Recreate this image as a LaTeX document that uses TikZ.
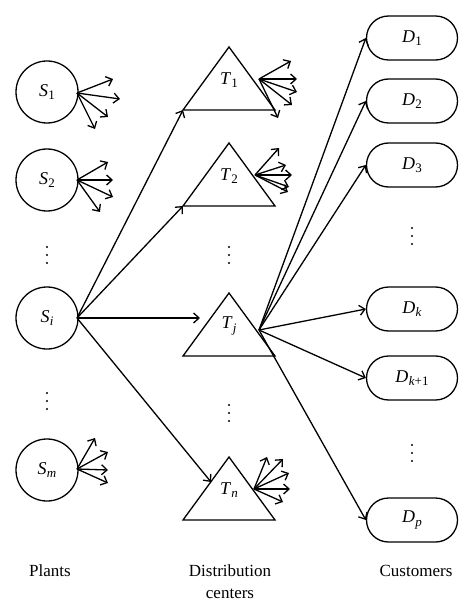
\documentclass[tikz,border=0pt]{standalone}
\usepackage{fontspec}
\setmainfont{Liberation Serif}
\usetikzlibrary{arrows.meta,shapes.misc}
\newcommand\lab[2]{\textit{#1}\kern0.3pt\raisebox{-0.4ex}{\fontsize{13}{13}\selectfont #2}}
\newcommand\vdts[2]{\foreach \dd in {-8,0,8} \fill (#1,{#2+\dd}) circle (1.2pt);}
\newcommand\dctr[3]{%
  \coordinate (#1a) at (229,#2);
  \coordinate (#1l) at (183,{#2+63});
  \coordinate (#1r) at (275,{#2+63});
  \draw[line join=miter] (#1a) -- (#1l) -- (#1r) -- cycle;
  \node (#1) at (229,{#2+33}) {#3};}
\begin{document}
\begin{tikzpicture}[x=1pt,y=-1pt,line width=1.3pt,
  every node/.style={font=\fontsize{18}{20}\selectfont},
  plant/.style={draw,circle,minimum size=62pt,inner sep=0pt},
  cust/.style={draw,rounded rectangle,minimum width=91pt,minimum height=44pt,inner sep=0pt},
  flow/.style={-{Straight Barb[length=5.5pt,width=10pt]}},
  caption/.style={align=center,font=\fontsize{17}{22}\selectfont}]
\useasboundingbox (0,0) rectangle (474,612);

% plants
\node[plant] (S1) at (47,92) {\lab{S}{1}};
\node[plant] (S2) at (47,180) {\lab{S}{2}};
\node[plant] (Si) at (47,318) {\lab{S}{\textit{i}}};
\node[plant] (Sm) at (47,470) {\lab{S}{\textit{m}}};
\vdts{47}{255}
\vdts{47}{401}

% distribution centers
\dctr{T1}{47}{\lab{T}{1}}
\dctr{T2}{143}{\lab{T}{2}}
\dctr{Tj}{293}{\lab{T}{\textit{j}}}
\dctr{Tn}{457}{\lab{T}{\textit{n}}}
\vdts{229}{255}
\vdts{229}{413}

% customers
\node[cust] (D1) at (412,38) {\lab{D}{1}};
\node[cust] (D2) at (412,101) {\lab{D}{2}};
\node[cust] (D3) at (412,165) {\lab{D}{3}};
\node[cust] (Dk) at (412,309) {\lab{D}{\textit{k}}};
\node[cust] (Dk1) at (412,378) {\lab{D}{\textit{k}+1}};
\node[cust] (Dp) at (412,520) {\lab{D}{\textit{p}}};
\vdts{412}{236}
\vdts{412}{453}

% captions
\node[caption] (cp) at (50,571) {Plants};
\node[caption] (cd) at (230,582) {Distribution\\centers};
\node[caption] (cc) at (416,571) {Customers};

% flows from S_i
\coordinate (Sio) at (77,318);
\coordinate (Tjin) at (200,318);
\coordinate (Tnin) at (211,482);
\draw[flow] (Sio) -- (T1l);
\draw[flow] (Sio) -- (T2l);
\draw[flow] (Sio) -- (Tjin);
\draw[flow] (Sio) -- (Tnin);

% flows from T_j
\coordinate (Tjo) at (259,330);
\foreach \d in {D1,D2,D3,Dk,Dk1,Dp}
  \draw[flow] (Tjo) -- (\d.west);

% fans
\coordinate (S1o) at (77,93);
\foreach \dx/\dy in {36/-14,43/6,31/24,18/36}
  \draw[flow] (S1o) -- ++(\dx,\dy);
\coordinate (S2o) at (77,180);
\foreach \dx/\dy in {31/-18,36/0,36/17,23/32}
  \draw[flow] (S2o) -- ++(\dx,\dy);
\coordinate (Smo) at (77,469);
\foreach \dx/\dy in {18/-31,31/-17,31/1,31/14}
  \draw[flow] (Smo) -- ++(\dx,\dy);
\coordinate (T1o) at (259,79);
\foreach \dx/\dy in {32/-18,38/0,38/13,33/26,19/39}
  \draw[flow] (T1o) -- ++(\dx,\dy);
\coordinate (T2o) at (255,175);
\foreach \dx/\dy in {24/-27,31/-10,37/0,34/12,33/17}
  \draw[flow] (T2o) -- ++(\dx,\dy);
\coordinate (Tno) at (254,489);
\foreach \dx/\dy in {13/-32,29/-30,35/-16,36/0,29/13}
  \draw[flow] (Tno) -- ++(\dx,\dy);
\end{tikzpicture}
\end{document}
